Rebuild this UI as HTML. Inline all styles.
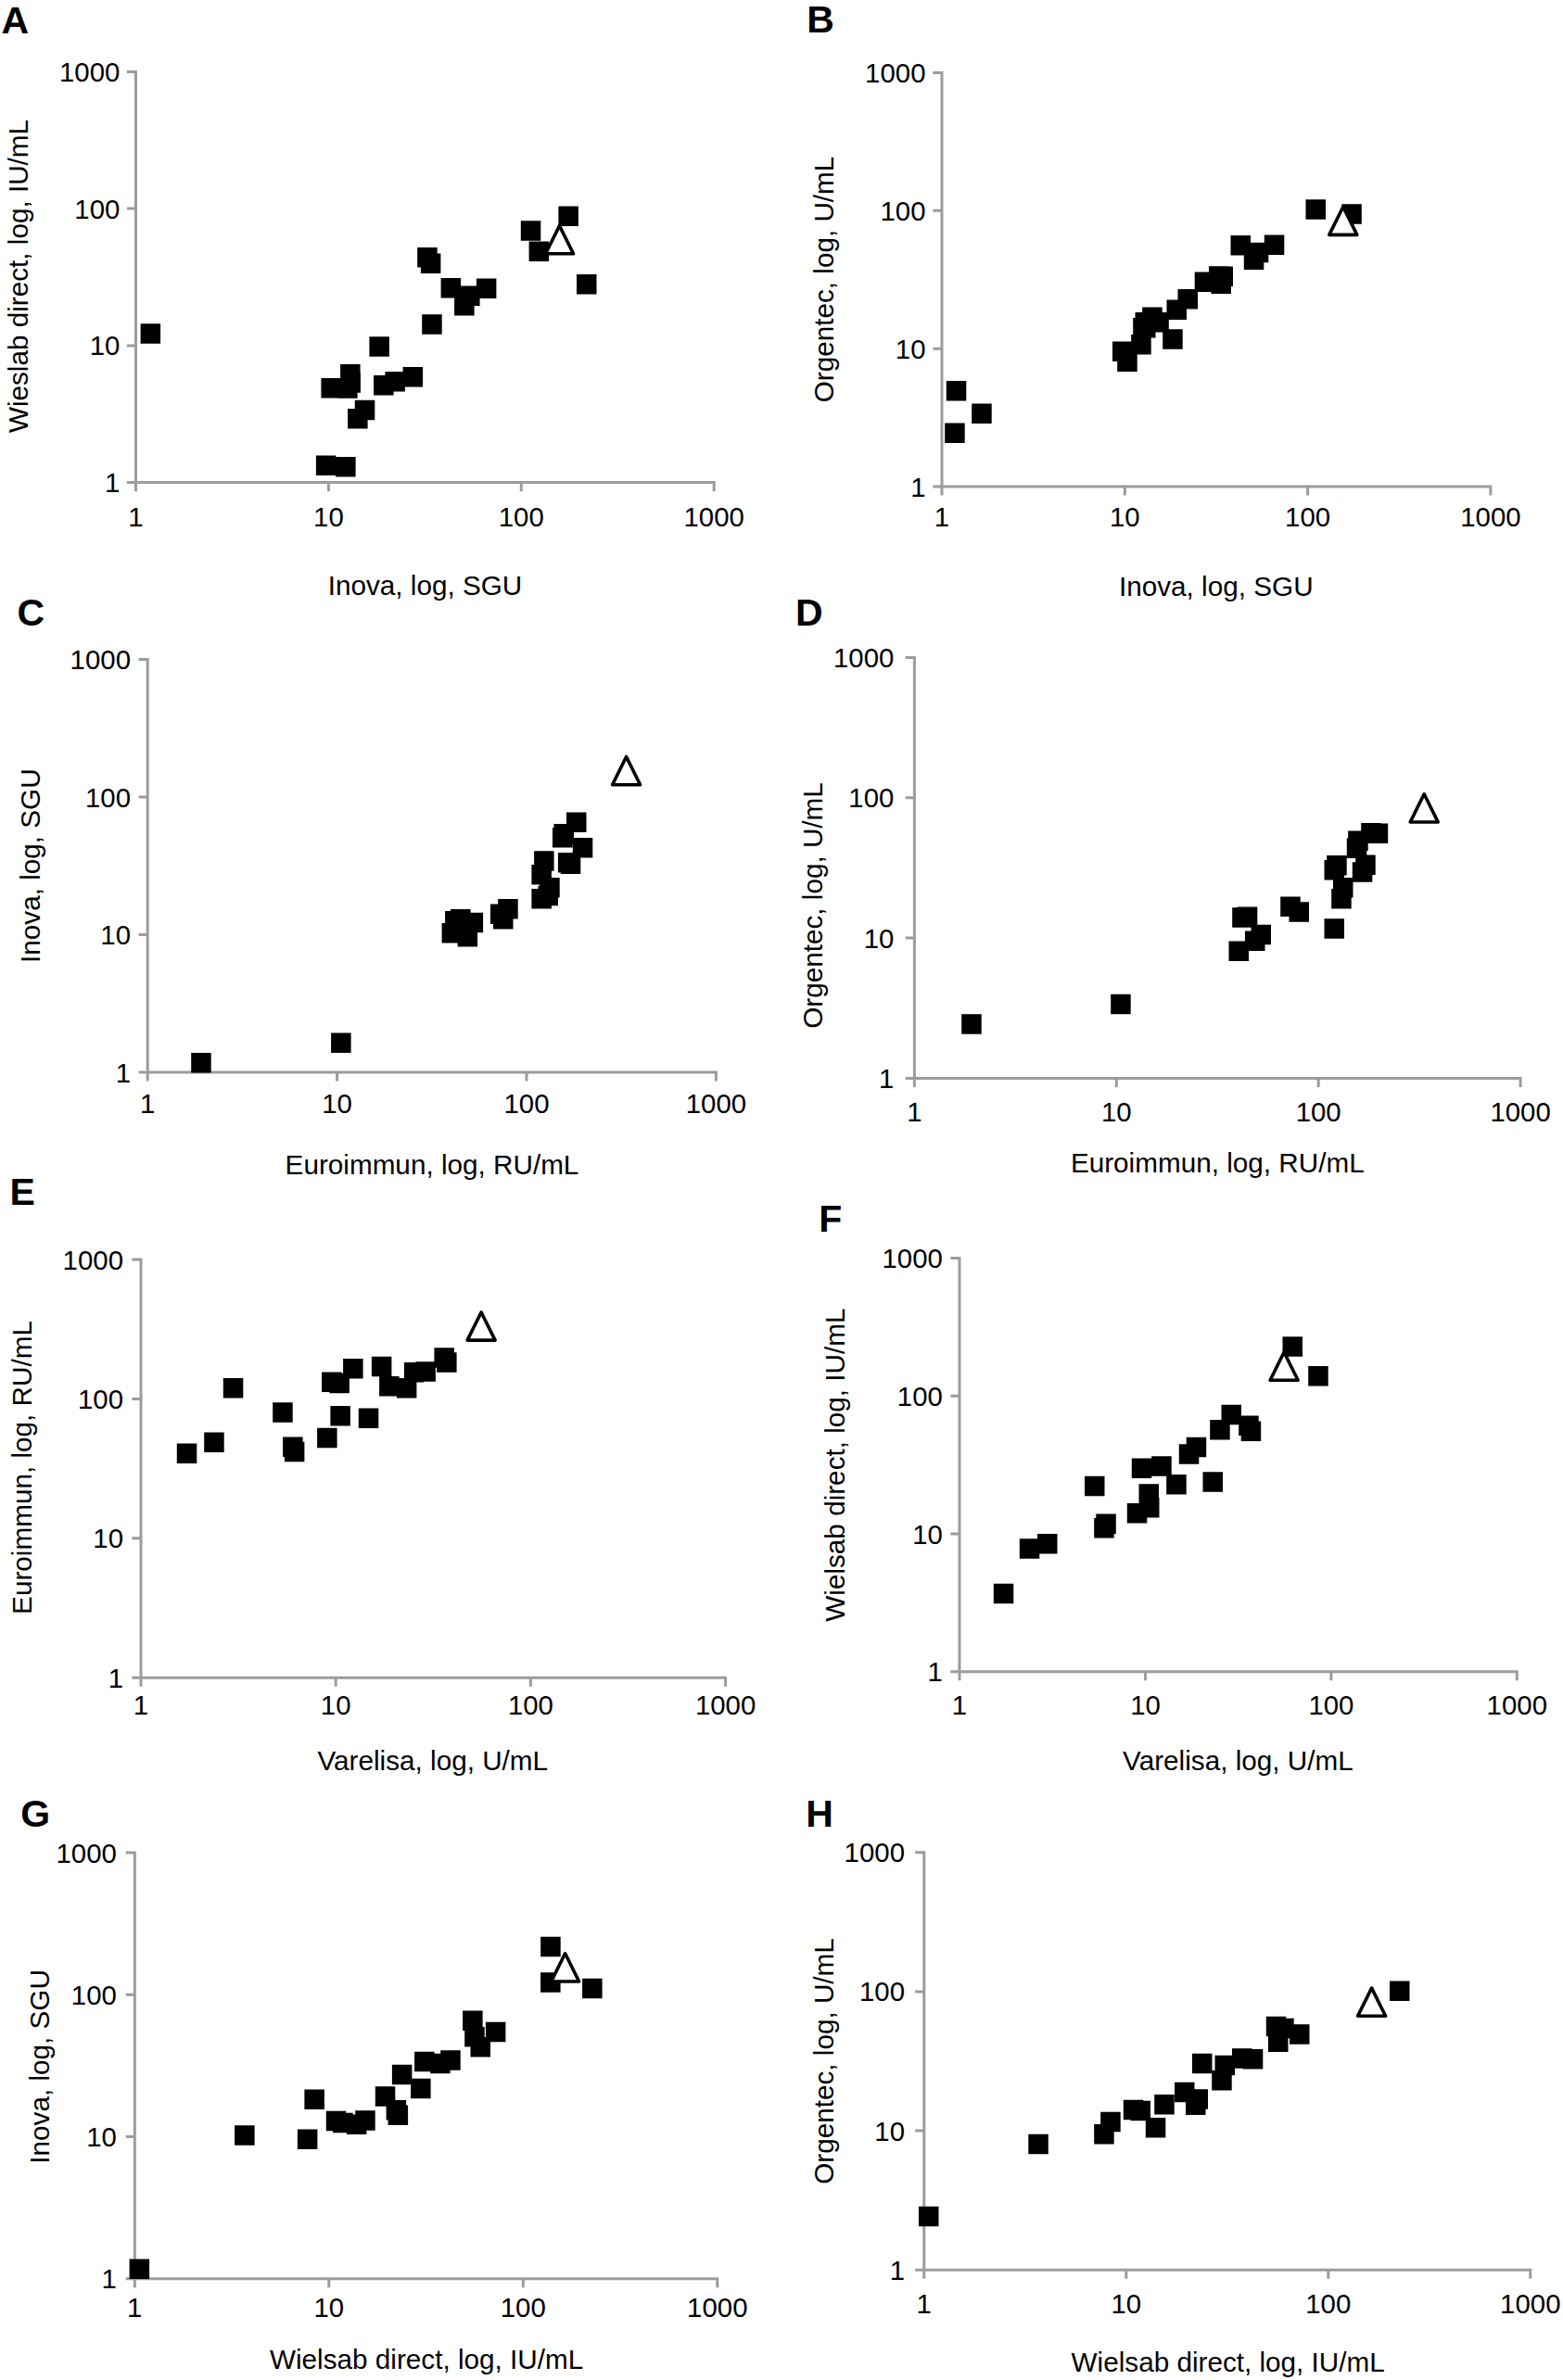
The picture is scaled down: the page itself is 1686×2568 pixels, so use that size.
<!DOCTYPE html>
<html lang="en"><head><meta charset="utf-8"><title>Figure: assay correlation scatter plots</title>
<style>
html,body{margin:0;padding:0;background:#fff;}
body{width:1686px;height:2568px;overflow:hidden;}
svg{display:block;}
text{font-family:"Liberation Sans",Arial,Helvetica,sans-serif;fill:#000;}
.tk{font-size:29.4px;}
.tt{font-size:29.7px;text-anchor:middle;}
.lt{font-size:41px;font-weight:bold;}
.ax{stroke:#9c9c9c;stroke-width:3;fill:none;}
.sq{fill:#000;}
.tri{fill:#fff;stroke:#000;stroke-width:3.6;stroke-linejoin:round;}
</style></head><body>
<svg width="1686" height="2568" viewBox="0 0 1686 2568">
<rect x="0" y="0" width="1686" height="2568" fill="#fff"/>
<g id="panel-A">
<path class="ax" d="M146.5 75.9V530.2M136.9 520.6H771.7M354.4 520.6V530.2M562.3 520.6V530.2M770.2 520.6V530.2M136.9 372.9H146.5M136.9 225.1H146.5M136.9 77.4H146.5"/>
<text class="tk" text-anchor="end" x="129.4" y="531.1">1</text>
<text class="tk" text-anchor="end" x="129.4" y="383.4">10</text>
<text class="tk" text-anchor="end" x="129.4" y="235.7">100</text>
<text class="tk" text-anchor="end" x="129.4" y="87.9">1000</text>
<text class="tk" text-anchor="middle" x="146.5" y="568">1</text>
<text class="tk" text-anchor="middle" x="354.4" y="568">10</text>
<text class="tk" text-anchor="middle" x="562.3" y="568">100</text>
<text class="tk" text-anchor="middle" x="770.2" y="568">1000</text>
<text class="tt" x="458.5" y="641.7">Inova, log, SGU</text>
<text class="tt" transform="translate(30.1 298) rotate(-90)">Wieslab direct, log, IU/mL</text>
<text class="lt" x="1.5" y="36">A</text>
<path class="sq" d="M151.6 349.2h21.5v21.5h-21.5zM340.9 491.6h21.5v21.5h-21.5zM362.1 492.9h21.5v21.5h-21.5zM346.4 407.9h21.5v21.5h-21.5zM364.1 408.2h21.5v21.5h-21.5zM367.1 392.9h21.5v21.5h-21.5zM367.4 402.2h21.5v21.5h-21.5zM375.1 441.1h21.5v21.5h-21.5zM382.8 431.8h21.5v21.5h-21.5zM398.4 363.2h21.5v21.5h-21.5zM403.1 405.1h21.5v21.5h-21.5zM415.4 401.1h21.5v21.5h-21.5zM434.6 395.9h21.5v21.5h-21.5zM450.2 267.1h21.5v21.5h-21.5zM453.9 273.4h21.5v21.5h-21.5zM455.2 339.2h21.5v21.5h-21.5zM475.6 300.1h21.5v21.5h-21.5zM490.1 318.9h21.5v21.5h-21.5zM496.1 308.4h21.5v21.5h-21.5zM513.9 300.6h21.5v21.5h-21.5zM561.8 238.2h21.5v21.5h-21.5zM570.6 260.4h21.5v21.5h-21.5zM602.4 222.6h21.5v21.5h-21.5zM622 296.1h21.5v21.5h-21.5z"/>
<path class="tri" d="M603.5 243.6L618.5 273.8H588.5Z"/>
</g>
<g id="panel-B">
<path class="ax" d="M1016 77V534.6M1006.4 525H1609.4M1213.3 525V534.6M1410.6 525V534.6M1607.9 525V534.6M1006.4 376.2H1016M1006.4 227.3H1016M1006.4 78.5H1016"/>
<text class="tk" text-anchor="end" x="998.5" y="535.5">1</text>
<text class="tk" text-anchor="end" x="998.5" y="386.7">10</text>
<text class="tk" text-anchor="end" x="998.5" y="237.9">100</text>
<text class="tk" text-anchor="end" x="998.5" y="89">1000</text>
<text class="tk" text-anchor="middle" x="1016" y="567.7">1</text>
<text class="tk" text-anchor="middle" x="1213.3" y="567.7">10</text>
<text class="tk" text-anchor="middle" x="1410.6" y="567.7">100</text>
<text class="tk" text-anchor="middle" x="1607.9" y="567.7">1000</text>
<text class="tt" x="1311.8" y="643">Inova, log, SGU</text>
<text class="tt" transform="translate(899.2 301.5) rotate(-90)">Orgentec, log, U/mL</text>
<text class="lt" x="870.3" y="35.2">B</text>
<path class="sq" d="M1020.8 411.1h21.5v21.5h-21.5zM1048.2 435.4h21.5v21.5h-21.5zM1019.2 456.4h21.5v21.5h-21.5zM1200 368.6h21.5v21.5h-21.5zM1205.2 379.4h21.5v21.5h-21.5zM1220.2 361.1h21.5v21.5h-21.5zM1222.2 343.1h21.5v21.5h-21.5zM1225 343.1h21.5v21.5h-21.5zM1224.5 336.9h21.5v21.5h-21.5zM1232.2 331.6h21.5v21.5h-21.5zM1239.3 336.9h21.5v21.5h-21.5zM1254.2 355.2h21.5v21.5h-21.5zM1258.5 323.6h21.5v21.5h-21.5zM1270.5 311.9h21.5v21.5h-21.5zM1288.7 293.6h21.5v21.5h-21.5zM1306.5 295.6h21.5v21.5h-21.5zM1304 287.2h21.5v21.5h-21.5zM1308.5 287.6h21.5v21.5h-21.5zM1327.5 254.1h21.5v21.5h-21.5zM1341.8 269.4h21.5v21.5h-21.5zM1346.8 261.8h21.5v21.5h-21.5zM1363.8 253.4h21.5v21.5h-21.5zM1408.5 215.2h21.5v21.5h-21.5zM1447.3 220.2h21.5v21.5h-21.5z"/>
<path class="tri" d="M1448.8 223.2L1463.8 253.4H1433.8Z"/>
</g>
<g id="panel-C">
<path class="ax" d="M159.2 710.1V1166.6M149.6 1157H773.9M363.6 1157V1166.6M568 1157V1166.6M772.4 1157V1166.6M149.6 1008.5H159.2M149.6 860.1H159.2M149.6 711.6H159.2"/>
<text class="tk" text-anchor="end" x="141" y="1167.5">1</text>
<text class="tk" text-anchor="end" x="141" y="1019.1">10</text>
<text class="tk" text-anchor="end" x="141" y="870.6">100</text>
<text class="tk" text-anchor="end" x="141" y="722.1">1000</text>
<text class="tk" text-anchor="middle" x="159.2" y="1201">1</text>
<text class="tk" text-anchor="middle" x="363.6" y="1201">10</text>
<text class="tk" text-anchor="middle" x="568" y="1201">100</text>
<text class="tk" text-anchor="middle" x="772.4" y="1201">1000</text>
<text class="tt" x="466" y="1266.6">Euroimmun, log, RU/mL</text>
<text class="tt" transform="translate(42.5 934.2) rotate(-90)">Inova, log, SGU</text>
<text class="lt" x="18.6" y="675.2">C</text>
<path class="sq" d="M206.2 1136h21.5v21.5h-21.5zM357.1 1114.5h21.5v21.5h-21.5zM476.6 996h21.5v21.5h-21.5zM480.1 983.1h21.5v21.5h-21.5zM486.1 981h21.5v21.5h-21.5zM499.6 984.8h21.5v21.5h-21.5zM493.6 1000h21.5v21.5h-21.5zM529 975.6h21.5v21.5h-21.5zM532 981h21.5v21.5h-21.5zM537.2 970.1h21.5v21.5h-21.5zM576.1 918.2h21.5v21.5h-21.5zM573.4 933.1h21.5v21.5h-21.5zM582.2 947h21.5v21.5h-21.5zM573.4 959.1h21.5v21.5h-21.5zM580.5 955.8h21.5v21.5h-21.5zM597.5 888.9h21.5v21.5h-21.5zM596 893.1h21.5v21.5h-21.5zM611 876.5h21.5v21.5h-21.5zM617.8 903.9h21.5v21.5h-21.5zM601.9 920h21.5v21.5h-21.5zM604.8 921.6h21.5v21.5h-21.5z"/>
<path class="tri" d="M675.6 816.5L690.6 846.7H660.6Z"/>
</g>
<g id="panel-D">
<path class="ax" d="M986.4 707.9V1173.1M976.8 1163.5H1641.6M1204.3 1163.5V1173.1M1422.2 1163.5V1173.1M1640.1 1163.5V1173.1M976.8 1012.1H986.4M976.8 860.8H986.4M976.8 709.4H986.4"/>
<text class="tk" text-anchor="end" x="964.4" y="1174">1</text>
<text class="tk" text-anchor="end" x="964.4" y="1022.7">10</text>
<text class="tk" text-anchor="end" x="964.4" y="871.3">100</text>
<text class="tk" text-anchor="end" x="964.4" y="719.9">1000</text>
<text class="tk" text-anchor="middle" x="986.4" y="1210">1</text>
<text class="tk" text-anchor="middle" x="1204.3" y="1210">10</text>
<text class="tk" text-anchor="middle" x="1422.2" y="1210">100</text>
<text class="tk" text-anchor="middle" x="1640.1" y="1210">1000</text>
<text class="tt" x="1313.3" y="1265">Euroimmun, log, RU/mL</text>
<text class="tt" transform="translate(887 977) rotate(-90)">Orgentec, log, U/mL</text>
<text class="lt" x="857.9" y="674.8">D</text>
<path class="sq" d="M1037.2 1094.2h21.5v21.5h-21.5zM1198.2 1072.8h21.5v21.5h-21.5zM1325.5 1015.5h21.5v21.5h-21.5zM1343 1004.5h21.5v21.5h-21.5zM1349.5 997.8h21.5v21.5h-21.5zM1329.2 979.2h21.5v21.5h-21.5zM1334.8 978.5h21.5v21.5h-21.5zM1381.2 967.4h21.5v21.5h-21.5zM1390.5 973.2h21.5v21.5h-21.5zM1428.5 991.2h21.5v21.5h-21.5zM1436.2 959.1h21.5v21.5h-21.5zM1438 947.1h21.5v21.5h-21.5zM1431.2 922.9h21.5v21.5h-21.5zM1428.5 928.1h21.5v21.5h-21.5zM1462.2 922.5h21.5v21.5h-21.5zM1458.8 930.2h21.5v21.5h-21.5zM1454.2 896.5h21.5v21.5h-21.5zM1452.8 904.5h21.5v21.5h-21.5zM1468.2 888h21.5v21.5h-21.5zM1475.7 888.6h21.5v21.5h-21.5z"/>
<path class="tri" d="M1536.2 856.8L1551.2 887H1521.2Z"/>
</g>
<g id="panel-E">
<path class="ax" d="M152 1357.6V1819.8M142.4 1810.2H784.1M362.2 1810.2V1819.8M572.4 1810.2V1819.8M782.6 1810.2V1819.8M142.4 1659.8H152M142.4 1509.5H152M142.4 1359.1H152"/>
<text class="tk" text-anchor="end" x="133" y="1820.7">1</text>
<text class="tk" text-anchor="end" x="133" y="1670.4">10</text>
<text class="tk" text-anchor="end" x="133" y="1520">100</text>
<text class="tk" text-anchor="end" x="133" y="1369.6">1000</text>
<text class="tk" text-anchor="middle" x="152" y="1849.7">1</text>
<text class="tk" text-anchor="middle" x="362.2" y="1849.7">10</text>
<text class="tk" text-anchor="middle" x="572.4" y="1849.7">100</text>
<text class="tk" text-anchor="middle" x="782.6" y="1849.7">1000</text>
<text class="tt" x="466.8" y="1909.8">Varelisa, log, U/mL</text>
<text class="tt" transform="translate(33.6 1583.5) rotate(-90)">Euroimmun, log, RU/mL</text>
<text class="lt" x="10.5" y="1299.7">E</text>
<path class="sq" d="M190.8 1557.5h21.5v21.5h-21.5zM220.2 1545.5h21.5v21.5h-21.5zM240.8 1487h21.5v21.5h-21.5zM294.2 1513.3h21.5v21.5h-21.5zM305.1 1550.5h21.5v21.5h-21.5zM306.9 1555.8h21.5v21.5h-21.5zM342.1 1540.7h21.5v21.5h-21.5zM347.1 1480.5h21.5v21.5h-21.5zM355.4 1481.7h21.5v21.5h-21.5zM356.4 1517h21.5v21.5h-21.5zM370.1 1466h21.5v21.5h-21.5zM386.8 1519.5h21.5v21.5h-21.5zM400.9 1463.8h21.5v21.5h-21.5zM409.1 1485h21.5v21.5h-21.5zM427.9 1487h21.5v21.5h-21.5zM435.9 1470h21.5v21.5h-21.5zM448.4 1469.2h21.5v21.5h-21.5zM468.4 1454.3h21.5v21.5h-21.5zM471.1 1459.2h21.5v21.5h-21.5z"/>
<path class="tri" d="M519.1 1416L534.1 1446.1H504.1Z"/>
</g>
<g id="panel-F">
<path class="ax" d="M1035 1355.9V1813.3M1025.4 1803.7H1637.8M1235.5 1803.7V1813.3M1435.9 1803.7V1813.3M1636.3 1803.7V1813.3M1025.4 1654.9H1035M1025.4 1506.2H1035M1025.4 1357.4H1035"/>
<text class="tk" text-anchor="end" x="1016.9" y="1814.2">1</text>
<text class="tk" text-anchor="end" x="1016.9" y="1665.5">10</text>
<text class="tk" text-anchor="end" x="1016.9" y="1516.7">100</text>
<text class="tk" text-anchor="end" x="1016.9" y="1367.9">1000</text>
<text class="tk" text-anchor="middle" x="1035" y="1849.7">1</text>
<text class="tk" text-anchor="middle" x="1235.5" y="1849.7">10</text>
<text class="tk" text-anchor="middle" x="1435.9" y="1849.7">100</text>
<text class="tk" text-anchor="middle" x="1636.3" y="1849.7">1000</text>
<text class="tt" x="1335.4" y="1909.8">Varelisa, log, U/mL</text>
<text class="tt" transform="translate(910.8 1580.6) rotate(-90)">Wielsab direct, log, IU/mL</text>
<text class="lt" x="883.3" y="1329.2">F</text>
<path class="sq" d="M1071.8 1708.7h21.5v21.5h-21.5zM1099.8 1660.2h21.5v21.5h-21.5zM1119 1655h21.5v21.5h-21.5zM1170 1592.8h21.5v21.5h-21.5zM1180.2 1638h21.5v21.5h-21.5zM1182.3 1633.5h21.5v21.5h-21.5zM1215.8 1622h21.5v21.5h-21.5zM1229 1616h21.5v21.5h-21.5zM1228.5 1601.2h21.5v21.5h-21.5zM1220.8 1573.5h21.5v21.5h-21.5zM1242.2 1571.3h21.5v21.5h-21.5zM1258.2 1591h21.5v21.5h-21.5zM1271.8 1558.2h21.5v21.5h-21.5zM1279.7 1550.8h21.5v21.5h-21.5zM1297.5 1588.2h21.5v21.5h-21.5zM1305.2 1532h21.5v21.5h-21.5zM1317.5 1515.8h21.5v21.5h-21.5zM1336.2 1527.5h21.5v21.5h-21.5zM1338.7 1533.5h21.5v21.5h-21.5zM1383.5 1442.3h21.5v21.5h-21.5zM1411.2 1474h21.5v21.5h-21.5z"/>
<path class="tri" d="M1385.1 1459L1400.1 1489.2H1370.1Z"/>
</g>
<g id="panel-G">
<path class="ax" d="M145.3 1997.5V2468.3M135.7 2458.7H775.3M354.8 2458.7V2468.3M564.3 2458.7V2468.3M773.8 2458.7V2468.3M135.7 2305.5H145.3M135.7 2152.2H145.3M135.7 1999H145.3"/>
<text class="tk" text-anchor="end" x="125.9" y="2469.2">1</text>
<text class="tk" text-anchor="end" x="125.9" y="2316">10</text>
<text class="tk" text-anchor="end" x="125.9" y="2162.8">100</text>
<text class="tk" text-anchor="end" x="125.9" y="2009.5">1000</text>
<text class="tk" text-anchor="middle" x="145.3" y="2499.6">1</text>
<text class="tk" text-anchor="middle" x="354.8" y="2499.6">10</text>
<text class="tk" text-anchor="middle" x="564.3" y="2499.6">100</text>
<text class="tk" text-anchor="middle" x="773.8" y="2499.6">1000</text>
<text class="tt" x="460.1" y="2556.2">Wielsab direct, log, IU/mL</text>
<text class="tt" transform="translate(52.8 2229.9) rotate(-90)">Inova, log, SGU</text>
<text class="lt" x="22.2" y="1971.2">G</text>
<path class="sq" d="M139.6 2437.6h21.5v21.5h-21.5zM253.1 2293.2h21.5v21.5h-21.5zM320.9 2297.6h21.5v21.5h-21.5zM328.4 2254.4h21.5v21.5h-21.5zM351.8 2277.8h21.5v21.5h-21.5zM359.1 2279.8h21.5v21.5h-21.5zM373.9 2281.6h21.5v21.5h-21.5zM383.2 2277.2h21.5v21.5h-21.5zM404.8 2251.2h21.5v21.5h-21.5zM416.6 2265.9h21.5v21.5h-21.5zM418.6 2271.6h21.5v21.5h-21.5zM422.9 2227.8h21.5v21.5h-21.5zM443.1 2242.7h21.5v21.5h-21.5zM447.1 2213.7h21.5v21.5h-21.5zM464.1 2215.8h21.5v21.5h-21.5zM475.2 2212.2h21.5v21.5h-21.5zM499.1 2169.6h21.5v21.5h-21.5zM501.2 2186.9h21.5v21.5h-21.5zM507.5 2198.1h21.5v21.5h-21.5zM523.9 2181.8h21.5v21.5h-21.5zM583.2 2089.8h21.5v21.5h-21.5zM583.1 2128.2h21.5v21.5h-21.5zM628.1 2134.7h21.5v21.5h-21.5z"/>
<path class="tri" d="M609.6 2107.8L624.6 2138H594.6Z"/>
</g>
<g id="panel-H">
<path class="ax" d="M996.8 1997.2V2458.8M987.2 2449.2H1652.3M1214.8 2449.2V2458.8M1432.8 2449.2V2458.8M1650.8 2449.2V2458.8M987.2 2299H996.8M987.2 2148.9H996.8M987.2 1998.7H996.8"/>
<text class="tk" text-anchor="end" x="976" y="2459.7">1</text>
<text class="tk" text-anchor="end" x="976" y="2309.6">10</text>
<text class="tk" text-anchor="end" x="976" y="2159.4">100</text>
<text class="tk" text-anchor="end" x="976" y="2009.2">1000</text>
<text class="tk" text-anchor="middle" x="996.8" y="2496.4">1</text>
<text class="tk" text-anchor="middle" x="1214.8" y="2496.4">10</text>
<text class="tk" text-anchor="middle" x="1432.8" y="2496.4">100</text>
<text class="tk" text-anchor="middle" x="1650.8" y="2496.4">1000</text>
<text class="tt" x="1324.7" y="2559.4">Wielsab direct, log, IU/mL</text>
<text class="tt" transform="translate(898.8 2224) rotate(-90)">Orgentec, log, U/mL</text>
<text class="lt" x="869.2" y="1971.1">H</text>
<path class="sq" d="M991 2380.7h21.5v21.5h-21.5zM1109.3 2302.8h21.5v21.5h-21.5zM1180.2 2291.9h21.5v21.5h-21.5zM1187.2 2278.7h21.5v21.5h-21.5zM1211.8 2265.7h21.5v21.5h-21.5zM1219.5 2266.8h21.5v21.5h-21.5zM1235.8 2284.9h21.5v21.5h-21.5zM1245.2 2260.1h21.5v21.5h-21.5zM1267 2246.7h21.5v21.5h-21.5zM1279 2260.4h21.5v21.5h-21.5zM1281.5 2254.2h21.5v21.5h-21.5zM1286 2215.8h21.5v21.5h-21.5zM1307.2 2234.1h21.5v21.5h-21.5zM1310.5 2217.8h21.5v21.5h-21.5zM1329 2210.3h21.5v21.5h-21.5zM1340.8 2211.1h21.5v21.5h-21.5zM1365.8 2175.8h21.5v21.5h-21.5zM1374.2 2177.7h21.5v21.5h-21.5zM1368 2192.6h21.5v21.5h-21.5zM1391 2184.3h21.5v21.5h-21.5zM1499 2137.6h21.5v21.5h-21.5z"/>
<path class="tri" d="M1479.6 2145.1L1494.6 2175.3H1464.6Z"/>
</g>
</svg></body></html>
